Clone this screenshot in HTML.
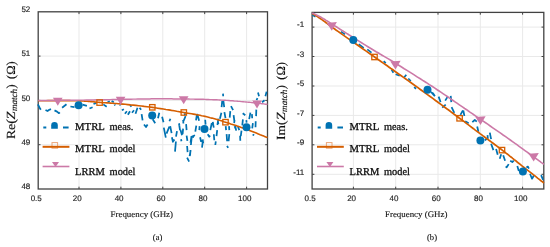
<!DOCTYPE html>
<html><head><meta charset="utf-8"><title>Figure</title>
<style>
html,body{margin:0;padding:0;background:#fff;}
svg{display:block;text-rendering:geometricPrecision;}
.tk{font-family:"Liberation Sans",sans-serif;font-size:8px;fill:#222;stroke:#222;stroke-width:0.15px;}
.lg{font-family:"Liberation Serif",serif;font-size:10.6px;fill:#111;stroke:#111;stroke-width:0.3px;}
.yl{font-family:"Liberation Serif",serif;font-size:12.4px;fill:#111;stroke:#111;stroke-width:0.15px;}
.xl{font-family:"Liberation Serif",serif;font-size:8.6px;fill:#111;stroke:#111;stroke-width:0.12px;}
</style></head><body>
<svg width="550" height="247" viewBox="0 0 550 247">
<rect width="550" height="247" fill="#fff"/>
<line x1="79.0" y1="11.8" x2="79.0" y2="189.0" stroke="#e9e9e9" stroke-width="1"/>
<line x1="120.9" y1="11.8" x2="120.9" y2="189.0" stroke="#e9e9e9" stroke-width="1"/>
<line x1="162.8" y1="11.8" x2="162.8" y2="189.0" stroke="#e9e9e9" stroke-width="1"/>
<line x1="204.7" y1="11.8" x2="204.7" y2="189.0" stroke="#e9e9e9" stroke-width="1"/>
<line x1="246.6" y1="11.8" x2="246.6" y2="189.0" stroke="#e9e9e9" stroke-width="1"/>
<line x1="38.2" y1="56.1" x2="267.5" y2="56.1" stroke="#e9e9e9" stroke-width="1"/>
<line x1="38.2" y1="100.4" x2="267.5" y2="100.4" stroke="#e9e9e9" stroke-width="1"/>
<line x1="38.2" y1="144.7" x2="267.5" y2="144.7" stroke="#e9e9e9" stroke-width="1"/>
<path d="M79.0 189.0 v-2.3 M79.0 11.8 v2.3" stroke="#424242" stroke-width="1"/>
<path d="M120.9 189.0 v-2.3 M120.9 11.8 v2.3" stroke="#424242" stroke-width="1"/>
<path d="M162.8 189.0 v-2.3 M162.8 11.8 v2.3" stroke="#424242" stroke-width="1"/>
<path d="M204.7 189.0 v-2.3 M204.7 11.8 v2.3" stroke="#424242" stroke-width="1"/>
<path d="M246.6 189.0 v-2.3 M246.6 11.8 v2.3" stroke="#424242" stroke-width="1"/>
<path d="M38.2 56.1 h2.3 M267.5 56.1 h-2.3" stroke="#424242" stroke-width="1"/>
<path d="M38.2 100.4 h2.3 M267.5 100.4 h-2.3" stroke="#424242" stroke-width="1"/>
<path d="M38.2 144.7 h2.3 M267.5 144.7 h-2.3" stroke="#424242" stroke-width="1"/>
<rect x="38.2" y="11.8" width="229.3" height="177.2" fill="none" stroke="#424242" stroke-width="1.3"/>
<text x="36.2" y="200.7" text-anchor="middle" class="tk">0.5</text>
<text x="77.2" y="200.7" text-anchor="middle" class="tk">20</text>
<text x="119.1" y="200.7" text-anchor="middle" class="tk">40</text>
<text x="161.0" y="200.7" text-anchor="middle" class="tk">60</text>
<text x="202.9" y="200.7" text-anchor="middle" class="tk">80</text>
<text x="244.8" y="200.7" text-anchor="middle" class="tk">100</text>
<text x="30.3" y="12.1" text-anchor="end" class="tk">52</text>
<text x="30.3" y="56.4" text-anchor="end" class="tk">51</text>
<text x="30.3" y="100.7" text-anchor="end" class="tk">50</text>
<text x="30.3" y="145.0" text-anchor="end" class="tk">49</text>
<text x="30.3" y="189.3" text-anchor="end" class="tk">48</text>
<path d="M37.9 104.3 L39.5 107.5 L40.8 109.7 M45.5 110.0 L47.5 111.0 L49.3 109.8 L51.0 109.1 M54.5 110.4 L57.0 111.6 L59.0 113.2 L59.8 112.4 M62.1 107.8 L66.5 104.3 M70.4 106.5 L74.5 107.2 M82.5 104.6 L86.9 105.9 M89.5 108.5 L92.6 107.2 M93.5 103.8 L96.5 102.8 M103.3 104.4 L106.7 106.7 M107.6 102.1 L109.8 101.3 M111.6 100.9 L113.8 102.3 M114.4 104.7 L115.4 105.3 M119.9 104.6 L120.6 105.4 M121.8 110.2 L123.9 109.2 M124.9 113.7 L126.9 111.2 M127.9 114.8 L130.0 111.2 M130.0 105.1 L131.5 106.7 M132.0 112.7 L134.0 110.2 M135.5 113.7 L137.5 107.7 M139.6 107.7 L141.1 109.7 M141.6 114.2 L142.6 120.3 M144.0 124.5 L146.0 127.0 L147.6 124.5 M152.7 119.3 L155.2 123.3 M159.3 112.7 L158.0 118.2 M162.1 116.7 L163.5 122.3 M170.4 118.7 L169.4 121.3 M184.6 113.2 L185.1 115.2 M185.6 116.2 L183.1 122.0 M179.1 123.3 L179.4 125.3 M163.8 127.6 L165.8 137.7 M166.5 133.7 L169.4 126.6 M170.2 126.1 L171.6 133.2 M171.9 137.2 L172.9 141.8 L174.5 139.5 M177.0 131.1 L176.0 136.7 M179.0 123.5 L180.0 130.1 M180.5 130.1 L182.0 135.2 M183.1 128.6 L182.6 134.2 M183.1 120.0 L183.4 123.5 M186.1 124.1 L186.6 130.1 M181.0 139.3 L181.5 141.3 M186.6 135.7 L187.4 140.8 M175.9 141.5 L175.0 151.6 M187.1 146.0 L187.6 152.1 M190.7 150.1 L189.6 156.2 M187.1 157.7 L189.1 161.7 M191.7 137.2 L190.9 145.0 M192.7 136.2 L195.0 135.2 M190.5 150.1 L190.0 155.7 M196.0 120.3 L196.9 114.7 L197.5 114.7 L199.1 120.8 M205.2 119.8 L205.6 124.6 M212.8 121.8 L213.3 125.0 M222.2 101.0 L221.6 107.1 M223.4 101.0 L224.2 107.1 M223.0 93.6 L223.2 96.2 M221.4 112.7 L219.9 118.7 M224.4 112.2 L225.5 118.2 M218.4 118.7 L217.4 125.0 M231.0 106.1 L233.1 110.1 M230.3 111.1 L229.7 117.7 M233.6 115.2 L234.4 121.3 M242.7 113.2 L245.3 115.2 M242.9 119.3 L242.3 125.3 M196.3 125.6 L195.3 131.7 M199.6 126.1 L199.3 130.1 M191.5 136.2 L190.5 142.8 M191.5 136.2 L194.0 137.2 M200.1 137.2 L201.1 141.8 M202.7 139.3 L203.2 143.3 M207.7 134.2 L209.3 136.7 L210.0 135.5 M211.8 123.0 L210.3 130.1 M212.8 123.0 L213.8 127.6 M213.8 134.2 L214.3 140.3 M217.2 130.1 L216.5 136.2 M217.9 121.5 L218.4 124.1 M215.8 141.3 L215.3 145.0 M225.7 126.1 L226.1 130.1 M229.0 126.1 L229.3 130.1 M226.6 134.1 L227.1 141.2 M229.3 134.1 L228.6 141.2 M227.1 145.8 L228.1 147.8 M234.6 120.0 L234.1 123.0 M234.6 126.1 L235.6 128.6 M235.2 126.0 L236.2 130.6 M237.7 126.0 L239.3 130.1 M241.5 130.6 L240.8 136.1 M240.1 135.6 L240.3 140.7 M200.6 140.0 L202.7 142.0 L202.0 147.6 M250.4 112.6 L249.2 119.2 M251.9 114.1 L252.2 118.2 M252.9 123.2 L252.2 128.3 M256.3 109.6 L256.1 116.1 M255.7 121.2 L255.5 127.3 M252.6 134.5 L254.2 135.3 M246.3 120.2 L246.6 122.7 M258.0 92.6 L259.0 96.2 M257.5 98.2 L256.5 100.2 M266.6 91.6 L265.4 96.2 M264.6 100.2 L262.0 102.3" fill="none" stroke="#0072B2" stroke-width="1.75" stroke-linecap="butt" stroke-linejoin="round"/>
<polyline points="38.2,100.7 39.3,100.7 40.6,100.7 42.2,100.7 44.0,100.7 45.9,100.7 48.0,100.6 50.1,100.6 52.2,100.6 54.3,100.6 56.3,100.6 58.2,100.6 60.0,100.6 61.7,100.6 63.3,100.6 64.9,100.6 66.5,100.6 68.1,100.6 69.6,100.6 71.1,100.7 72.6,100.7 74.0,100.7 75.4,100.7 76.7,100.8 78.0,100.8 79.2,100.8 80.4,100.9 81.5,100.9 82.5,101.0 83.6,101.0 84.5,101.1 85.5,101.2 86.4,101.2 87.3,101.3 88.2,101.4 89.1,101.4 90.0,101.5 90.8,101.6 91.6,101.6 92.3,101.7 92.9,101.8 93.5,101.8 94.2,101.9 94.8,102.0 95.6,102.0 96.4,102.1 97.3,102.2 98.3,102.3 99.5,102.4 100.8,102.5 102.2,102.6 103.7,102.7 105.3,102.8 106.9,102.9 108.7,103.0 110.5,103.1 112.3,103.2 114.3,103.4 116.3,103.5 118.4,103.7 120.6,103.9 122.9,104.1 125.3,104.3 127.8,104.6 130.4,104.9 133.1,105.1 135.9,105.4 138.6,105.7 141.4,106.0 144.2,106.4 147.0,106.7 149.7,107.0 152.4,107.4 155.1,107.8 157.8,108.2 160.5,108.6 163.3,109.0 166.0,109.5 168.8,109.9 171.5,110.4 174.1,110.8 176.7,111.3 179.2,111.7 181.5,112.1 183.8,112.5 185.9,112.9 187.9,113.2 189.8,113.5 191.6,113.8 193.4,114.1 195.1,114.4 196.7,114.7 198.4,115.0 200.0,115.3 201.6,115.7 203.3,116.0 205.0,116.4 206.7,116.8 208.5,117.2 210.2,117.7 211.9,118.1 213.6,118.6 215.3,119.1 217.0,119.6 218.7,120.1 220.4,120.6 222.1,121.1 223.8,121.7 225.5,122.2 227.2,122.7 229.0,123.3 230.7,123.9 232.5,124.4 234.2,125.0 236.0,125.6 237.7,126.2 239.5,126.8 241.2,127.4 243.0,128.0 244.7,128.7 246.5,129.3 248.3,130.0 250.2,130.7 252.2,131.5 254.3,132.3 256.3,133.1 258.3,133.9 260.2,134.7 262.1,135.4 263.7,136.1 265.2,136.7 266.5,137.2 267.5,137.6" fill="none" stroke="#D55E00" stroke-width="1.6"/>
<polyline points="38.2,100.5 39.7,100.5 41.6,100.5 43.7,100.5 46.1,100.4 48.8,100.4 51.6,100.4 54.6,100.4 57.6,100.4 60.7,100.3 63.9,100.3 67.0,100.3 70.0,100.2 73.1,100.2 76.3,100.2 79.7,100.1 83.1,100.1 86.6,100.0 90.1,99.9 93.6,99.9 97.1,99.8 100.5,99.8 103.8,99.7 107.0,99.7 110.0,99.6 112.9,99.5 115.7,99.5 118.4,99.4 121.0,99.4 123.6,99.3 126.1,99.3 128.6,99.2 131.0,99.2 133.3,99.1 135.6,99.1 137.8,99.0 140.0,99.0 142.1,99.0 144.1,98.9 146.0,98.9 147.9,98.9 149.7,98.9 151.4,98.8 153.2,98.8 154.9,98.8 156.6,98.8 158.4,98.8 160.2,98.8 162.0,98.8 163.9,98.8 165.8,98.8 167.8,98.8 169.7,98.8 171.7,98.8 173.6,98.9 175.6,98.9 177.5,98.9 179.4,98.9 181.3,99.0 183.2,99.0 185.0,99.0 186.8,99.0 188.5,99.0 190.2,99.1 191.9,99.1 193.5,99.1 195.2,99.2 196.8,99.2 198.4,99.2 200.1,99.3 201.7,99.3 203.3,99.3 205.0,99.4 206.7,99.5 208.3,99.5 210.0,99.6 211.6,99.6 213.3,99.7 214.9,99.8 216.6,99.8 218.3,99.9 219.9,100.0 221.6,100.1 223.3,100.2 225.0,100.3 226.7,100.4 228.6,100.5 230.4,100.7 232.3,100.8 234.2,101.0 236.1,101.1 237.9,101.3 239.7,101.4 241.4,101.6 243.1,101.7 244.6,101.9 246.0,102.0 247.3,102.1 248.4,102.2 249.5,102.3 250.4,102.4 251.3,102.5 252.2,102.6 253.0,102.7 253.7,102.7 254.5,102.8 255.3,102.9 256.1,103.0 257.0,103.1 257.9,103.2 258.9,103.3 259.9,103.4 260.9,103.6 261.9,103.7 262.9,103.8 263.9,103.9 264.8,104.1 265.6,104.2 266.4,104.3 267.0,104.3 267.5,104.4" fill="none" stroke="#CC79A7" stroke-width="1.45"/>
<circle cx="78.6" cy="105.3" r="4.0" fill="#0072B2"/>
<circle cx="152.2" cy="115.6" r="4.0" fill="#0072B2"/>
<circle cx="204.5" cy="128.9" r="4.0" fill="#0072B2"/>
<circle cx="246.5" cy="127.2" r="4.0" fill="#0072B2"/>
<rect x="96.90" y="99.90" width="5.4" height="5.4" fill="none" stroke="#D55E00" stroke-width="1.3"/>
<rect x="149.60" y="104.60" width="5.4" height="5.4" fill="none" stroke="#D55E00" stroke-width="1.3"/>
<rect x="181.10" y="109.80" width="5.4" height="5.4" fill="none" stroke="#D55E00" stroke-width="1.3"/>
<rect x="222.80" y="119.50" width="5.4" height="5.4" fill="none" stroke="#D55E00" stroke-width="1.3"/>
<polygon points="52.9,97.7 62.6,97.7 57.8,105.8" fill="#CC79A7"/>
<polygon points="115.8,96.8 125.4,96.8 120.6,104.9" fill="#CC79A7"/>
<polygon points="178.8,96.2 188.5,96.2 183.7,104.3" fill="#CC79A7"/>
<polygon points="252.2,100.4 261.9,100.4 257.0,108.5" fill="#CC79A7"/>
<path d="M43.3 127.5 h3.0 M63.0 127.5 h5.6" stroke="#0072B2" stroke-width="1.9" fill="none"/>
<path d="M51.2 128.8 v-3.6 a3.3 3.3 0 0 1 6.6 0 v3.6 z" fill="#0072B2"/>
<rect x="52.0" y="142.6" width="5.6" height="5.6" fill="none" stroke="#eba67a" stroke-width="1"/>
<line x1="42.6" y1="146.8" x2="69.4" y2="146.8" stroke="#D55E00" stroke-width="2"/>
<polygon points="52.0,162 59.0,162 55.5,167" fill="#CC79A7"/>
<line x1="42.6" y1="166.5" x2="69.4" y2="166.5" stroke="#CC79A7" stroke-width="1.6"/>
<text x="75.1" y="129.8" class="lg" textLength="29.7" lengthAdjust="spacingAndGlyphs">MTRL</text>
<text x="109.5" y="129.8" class="lg" textLength="23.9" lengthAdjust="spacingAndGlyphs">meas.</text>
<text x="75.1" y="152.1" class="lg" textLength="29.7" lengthAdjust="spacingAndGlyphs">MTRL</text>
<text x="109.6" y="152.1" class="lg" textLength="25.9" lengthAdjust="spacingAndGlyphs">model</text>
<text x="75.1" y="174.6" class="lg" textLength="29.7" lengthAdjust="spacingAndGlyphs">LRRM</text>
<text x="109.6" y="174.6" class="lg" textLength="25.9" lengthAdjust="spacingAndGlyphs">model</text>
<g transform="translate(15.3,139.1) rotate(-90) scale(1,1.0)">
<text x="0" y="0" class="yl" textLength="19.9" lengthAdjust="spacingAndGlyphs">Re(</text>
<text x="19.6" y="0" class="yl" font-style="italic" textLength="8.0" lengthAdjust="spacingAndGlyphs">Z</text>
<text x="28.0" y="1.6" class="yl" font-style="italic" style="font-size:9px" textLength="22.2" lengthAdjust="spacingAndGlyphs">match</text>
<text x="50.6" y="0" class="yl">)</text>
<text x="60.2" y="0" class="yl" textLength="17.6" lengthAdjust="spacingAndGlyphs">(Ω)</text>
</g>
<text x="110.6" y="216.7" class="xl" textLength="62.4" lengthAdjust="spacingAndGlyphs">Frequency (GHz)</text>
<text x="157.6" y="240" class="xl" text-anchor="middle">(a)</text>
<line x1="353.4" y1="12.4" x2="353.4" y2="189.0" stroke="#e9e9e9" stroke-width="1"/>
<line x1="395.7" y1="12.4" x2="395.7" y2="189.0" stroke="#e9e9e9" stroke-width="1"/>
<line x1="438.0" y1="12.4" x2="438.0" y2="189.0" stroke="#e9e9e9" stroke-width="1"/>
<line x1="480.3" y1="12.4" x2="480.3" y2="189.0" stroke="#e9e9e9" stroke-width="1"/>
<line x1="522.6" y1="12.4" x2="522.6" y2="189.0" stroke="#e9e9e9" stroke-width="1"/>
<line x1="312.1" y1="27.1" x2="543.8" y2="27.1" stroke="#e9e9e9" stroke-width="1"/>
<line x1="312.1" y1="56.5" x2="543.8" y2="56.5" stroke="#e9e9e9" stroke-width="1"/>
<line x1="312.1" y1="86.0" x2="543.8" y2="86.0" stroke="#e9e9e9" stroke-width="1"/>
<line x1="312.1" y1="115.4" x2="543.8" y2="115.4" stroke="#e9e9e9" stroke-width="1"/>
<line x1="312.1" y1="144.8" x2="543.8" y2="144.8" stroke="#e9e9e9" stroke-width="1"/>
<line x1="312.1" y1="174.3" x2="543.8" y2="174.3" stroke="#e9e9e9" stroke-width="1"/>
<path d="M353.4 189.0 v-2.3 M353.4 12.4 v2.3" stroke="#424242" stroke-width="1"/>
<path d="M395.7 189.0 v-2.3 M395.7 12.4 v2.3" stroke="#424242" stroke-width="1"/>
<path d="M438.0 189.0 v-2.3 M438.0 12.4 v2.3" stroke="#424242" stroke-width="1"/>
<path d="M480.3 189.0 v-2.3 M480.3 12.4 v2.3" stroke="#424242" stroke-width="1"/>
<path d="M522.6 189.0 v-2.3 M522.6 12.4 v2.3" stroke="#424242" stroke-width="1"/>
<path d="M312.1 27.1 h2.3 M543.8 27.1 h-2.3" stroke="#424242" stroke-width="1"/>
<path d="M312.1 56.5 h2.3 M543.8 56.5 h-2.3" stroke="#424242" stroke-width="1"/>
<path d="M312.1 86.0 h2.3 M543.8 86.0 h-2.3" stroke="#424242" stroke-width="1"/>
<path d="M312.1 115.4 h2.3 M543.8 115.4 h-2.3" stroke="#424242" stroke-width="1"/>
<path d="M312.1 144.8 h2.3 M543.8 144.8 h-2.3" stroke="#424242" stroke-width="1"/>
<path d="M312.1 174.3 h2.3 M543.8 174.3 h-2.3" stroke="#424242" stroke-width="1"/>
<rect x="312.1" y="12.4" width="231.7" height="176.6" fill="none" stroke="#424242" stroke-width="1.3"/>
<text x="310.1" y="200.7" text-anchor="middle" class="tk">0.5</text>
<text x="351.6" y="200.7" text-anchor="middle" class="tk">20</text>
<text x="393.9" y="200.7" text-anchor="middle" class="tk">40</text>
<text x="436.2" y="200.7" text-anchor="middle" class="tk">60</text>
<text x="478.5" y="200.7" text-anchor="middle" class="tk">80</text>
<text x="520.8" y="200.7" text-anchor="middle" class="tk">100</text>
<text x="304.2" y="12.7" text-anchor="end" class="tk"></text>
<text x="304.2" y="27.4" text-anchor="end" class="tk">-1</text>
<text x="304.2" y="56.8" text-anchor="end" class="tk">-3</text>
<text x="304.2" y="86.3" text-anchor="end" class="tk">-5</text>
<text x="304.2" y="115.7" text-anchor="end" class="tk">-7</text>
<text x="304.2" y="145.2" text-anchor="end" class="tk">-9</text>
<text x="304.2" y="174.6" text-anchor="end" class="tk">-11</text>
<text x="304.2" y="189.3" text-anchor="end" class="tk"></text>
<path d="M312.4 15.0 L315.5 16.6 M341.0 31.6 L345.0 34.4 M358.7 44.2 L363.7 48.0 M367.3 49.4 L371.5 52.6 M383.7 61.2 L385.8 63.2 M391.6 69.6 L393.4 72.8 M395.6 74.2 L399.7 75.7 M404.3 77.2 L406.3 74.7 M408.3 78.5 L410.8 81.0 M414.1 87.1 L416.1 88.7 M430.8 92.2 L433.0 93.2 L434.9 96.3 M431.0 92.0 L434.6 96.0 M438.6 96.6 L440.6 102.1 M447.7 96.6 L445.2 100.6 M450.7 95.8 L451.3 102.1 M445.7 104.7 L442.2 107.7 M451.6 107.2 L454.3 112.8 M462.9 110.3 L460.4 114.8 M463.3 110.3 L464.4 116.0 M465.2 121.2 L468.7 123.2 M472.3 122.2 L474.8 120.0 L476.8 121.7 M477.2 126.5 L478.4 131.8 M484.8 140.2 L487.8 138.2 L487.5 135.1 M489.8 132.6 L491.1 139.2 M491.1 143.7 L493.4 150.1 M496.1 149.1 L497.7 154.7 M501.2 154.2 L499.7 158.7 M503.2 155.2 L505.1 160.8 M510.2 160.7 L512.3 162.0 L513.8 160.6 M505.6 166.6 L506.7 167.3 L508.7 164.1 M517.3 166.1 L518.8 171.1 M526.4 167.6 L527.9 166.6 L528.9 168.6 M530.0 173.7 L532.0 178.7 L534.0 175.2 M541.1 175.2 L543.1 179.8" fill="none" stroke="#0072B2" stroke-width="1.75" stroke-linejoin="round"/>
<polyline points="312.2,13.4 312.5,13.6 312.8,13.8 313.2,14.0 313.7,14.3 314.1,14.6 314.6,14.9 315.2,15.2 315.7,15.6 316.3,15.9 316.9,16.3 317.4,16.6 318.0,17.0 318.5,17.3 319.0,17.7 319.5,18.0 320.0,18.3 320.5,18.7 321.0,19.0 321.6,19.4 322.2,19.9 322.8,20.3 323.5,20.8 324.3,21.4 325.2,22.0 326.1,22.7 327.0,23.3 327.9,24.0 328.8,24.7 329.8,25.4 330.9,26.2 332.0,27.1 333.3,28.0 334.7,29.0 336.3,30.2 338.0,31.4 340.0,32.8 342.2,34.4 344.7,36.1 347.5,38.1 350.4,40.1 353.5,42.3 356.7,44.5 359.9,46.7 363.1,49.0 366.2,51.1 369.2,53.2 372.0,55.2 374.6,57.0 377.0,58.7 379.2,60.2 381.3,61.7 383.3,63.1 385.3,64.5 387.2,65.8 389.1,67.2 390.9,68.5 392.9,69.8 394.8,71.2 396.9,72.7 399.0,74.2 401.2,75.8 403.5,77.4 405.8,79.0 408.1,80.6 410.4,82.3 412.8,84.0 415.2,85.7 417.6,87.4 420.0,89.2 422.5,91.0 425.0,92.8 427.5,94.6 430.1,96.5 432.8,98.4 435.5,100.5 438.3,102.5 441.2,104.6 444.0,106.7 446.8,108.8 449.6,110.8 452.2,112.8 454.8,114.7 457.2,116.5 459.5,118.2 461.6,119.8 463.6,121.2 465.4,122.6 467.1,123.9 468.8,125.1 470.4,126.3 471.9,127.5 473.5,128.7 475.0,129.9 476.6,131.1 478.3,132.3 480.0,133.6 481.8,134.9 483.6,136.3 485.5,137.7 487.4,139.1 489.3,140.5 491.2,141.9 493.1,143.3 495.0,144.7 496.9,146.1 498.7,147.5 500.5,148.8 502.2,150.1 503.8,151.4 505.4,152.6 506.9,153.8 508.4,154.9 509.8,156.1 511.3,157.2 512.7,158.4 514.2,159.6 515.7,160.7 517.2,162.0 518.8,163.3 520.5,164.6 522.3,166.1 524.4,167.7 526.5,169.4 528.8,171.1 531.1,172.9 533.3,174.7 535.6,176.4 537.6,178.1 539.6,179.6 541.3,181.0 542.8,182.1 543.9,183.0" fill="none" stroke="#D55E00" stroke-width="1.7"/>
<polyline points="312.2,13.0 312.5,13.2 312.9,13.3 313.4,13.5 313.9,13.8 314.5,14.0 315.1,14.3 315.8,14.6 316.4,14.9 317.1,15.2 317.7,15.6 318.4,15.9 319.0,16.2 319.6,16.5 320.1,16.8 320.6,17.1 321.1,17.3 321.6,17.6 322.1,17.9 322.7,18.2 323.3,18.6 324.0,19.0 324.8,19.5 325.7,20.1 326.7,20.7 327.9,21.4 329.1,22.2 330.5,23.1 331.9,24.0 333.5,25.0 335.0,26.0 336.7,27.0 338.4,28.1 340.1,29.2 341.9,30.3 343.7,31.5 345.5,32.6 347.3,33.8 349.2,35.0 351.2,36.2 353.2,37.5 355.2,38.8 357.3,40.1 359.4,41.4 361.5,42.7 363.7,44.1 365.8,45.4 367.9,46.7 370.0,48.0 372.1,49.3 374.1,50.5 376.1,51.7 378.1,52.8 380.0,54.0 382.1,55.2 384.1,56.4 386.2,57.6 388.4,58.9 390.7,60.3 393.1,61.8 395.6,63.3 398.3,65.0 401.2,66.8 404.2,68.7 407.4,70.6 410.6,72.6 413.8,74.7 417.1,76.8 420.3,78.8 423.4,80.8 426.5,82.7 429.3,84.6 432.0,86.3 434.5,87.9 436.8,89.5 439.1,91.0 441.2,92.4 443.3,93.8 445.3,95.2 447.3,96.5 449.2,97.9 451.1,99.2 453.1,100.5 455.0,101.8 457.0,103.2 459.0,104.6 460.9,105.9 462.8,107.2 464.7,108.5 466.6,109.7 468.4,111.0 470.3,112.3 472.3,113.6 474.2,115.0 476.2,116.4 478.3,117.8 480.5,119.3 482.8,120.9 485.2,122.5 487.7,124.2 490.2,126.0 492.8,127.8 495.4,129.6 498.0,131.4 500.6,133.2 503.1,135.0 505.6,136.7 508.0,138.4 510.3,140.0 512.5,141.6 514.7,143.2 516.9,144.7 519.1,146.3 521.2,147.8 523.3,149.3 525.3,150.8 527.2,152.2 529.0,153.5 530.7,154.8 532.3,155.9 533.8,157.0 535.1,158.0 536.4,158.9 537.5,159.7 538.5,160.4 539.5,161.1 540.3,161.7 541.1,162.3 541.8,162.8 542.4,163.2 543.0,163.6 543.5,164.0 543.9,164.3" fill="none" stroke="#CC79A7" stroke-width="1.6"/>
<circle cx="353.3" cy="40.1" r="4.0" fill="#0072B2"/>
<circle cx="427.5" cy="89.7" r="4.0" fill="#0072B2"/>
<circle cx="480.4" cy="140.4" r="4.0" fill="#0072B2"/>
<circle cx="522.9" cy="171.4" r="4.0" fill="#0072B2"/>
<rect x="371.80" y="54.30" width="5.4" height="5.4" fill="none" stroke="#D55E00" stroke-width="1.3"/>
<rect x="456.90" y="115.60" width="5.4" height="5.4" fill="none" stroke="#D55E00" stroke-width="1.3"/>
<rect x="499.30" y="147.40" width="5.4" height="5.4" fill="none" stroke="#D55E00" stroke-width="1.3"/>
<polygon points="326.7,22.9 336.9,22.1 331.8,30.7" fill="#CC79A7"/>
<polygon points="390.4,61.6 400.6,60.8 395.5,69.4" fill="#CC79A7"/>
<polygon points="475.4,117.1 485.6,116.3 480.5,124.9" fill="#CC79A7"/>
<polygon points="528.6,153.7 538.8,152.9 533.7,161.5" fill="#CC79A7"/>
<path d="M317.7 127.5 h3.0 M337.4 127.5 h5.6" stroke="#0072B2" stroke-width="1.9" fill="none"/>
<path d="M325.6 128.8 v-3.6 a3.3 3.3 0 0 1 6.6 0 v3.6 z" fill="#0072B2"/>
<rect x="326.4" y="142.6" width="5.6" height="5.6" fill="none" stroke="#eba67a" stroke-width="1"/>
<line x1="317.0" y1="146.8" x2="343.8" y2="146.8" stroke="#D55E00" stroke-width="2"/>
<polygon points="326.4,162 333.4,162 329.9,167" fill="#CC79A7"/>
<line x1="317.0" y1="166.5" x2="343.8" y2="166.5" stroke="#CC79A7" stroke-width="1.6"/>
<text x="349.5" y="129.8" class="lg" textLength="29.7" lengthAdjust="spacingAndGlyphs">MTRL</text>
<text x="383.9" y="129.8" class="lg" textLength="23.9" lengthAdjust="spacingAndGlyphs">meas.</text>
<text x="349.5" y="152.1" class="lg" textLength="29.7" lengthAdjust="spacingAndGlyphs">MTRL</text>
<text x="384.0" y="152.1" class="lg" textLength="25.9" lengthAdjust="spacingAndGlyphs">model</text>
<text x="349.5" y="174.6" class="lg" textLength="29.7" lengthAdjust="spacingAndGlyphs">LRRM</text>
<text x="384.0" y="174.6" class="lg" textLength="25.9" lengthAdjust="spacingAndGlyphs">model</text>
<g transform="translate(285.2,139.9) rotate(-90) scale(1,1.0)">
<text x="0" y="0" class="yl" textLength="19.4" lengthAdjust="spacingAndGlyphs">Im(</text>
<text x="19.6" y="0" class="yl" font-style="italic" textLength="8.0" lengthAdjust="spacingAndGlyphs">Z</text>
<text x="28.0" y="1.6" class="yl" font-style="italic" style="font-size:9px" textLength="22.2" lengthAdjust="spacingAndGlyphs">match</text>
<text x="50.6" y="0" class="yl">)</text>
<text x="60.2" y="0" class="yl" textLength="17.6" lengthAdjust="spacingAndGlyphs">(Ω)</text>
</g>
<text x="385.0" y="216.7" class="xl" textLength="62.4" lengthAdjust="spacingAndGlyphs">Frequency (GHz)</text>
<text x="432.0" y="240" class="xl" text-anchor="middle">(b)</text>
</svg>
</body></html>
